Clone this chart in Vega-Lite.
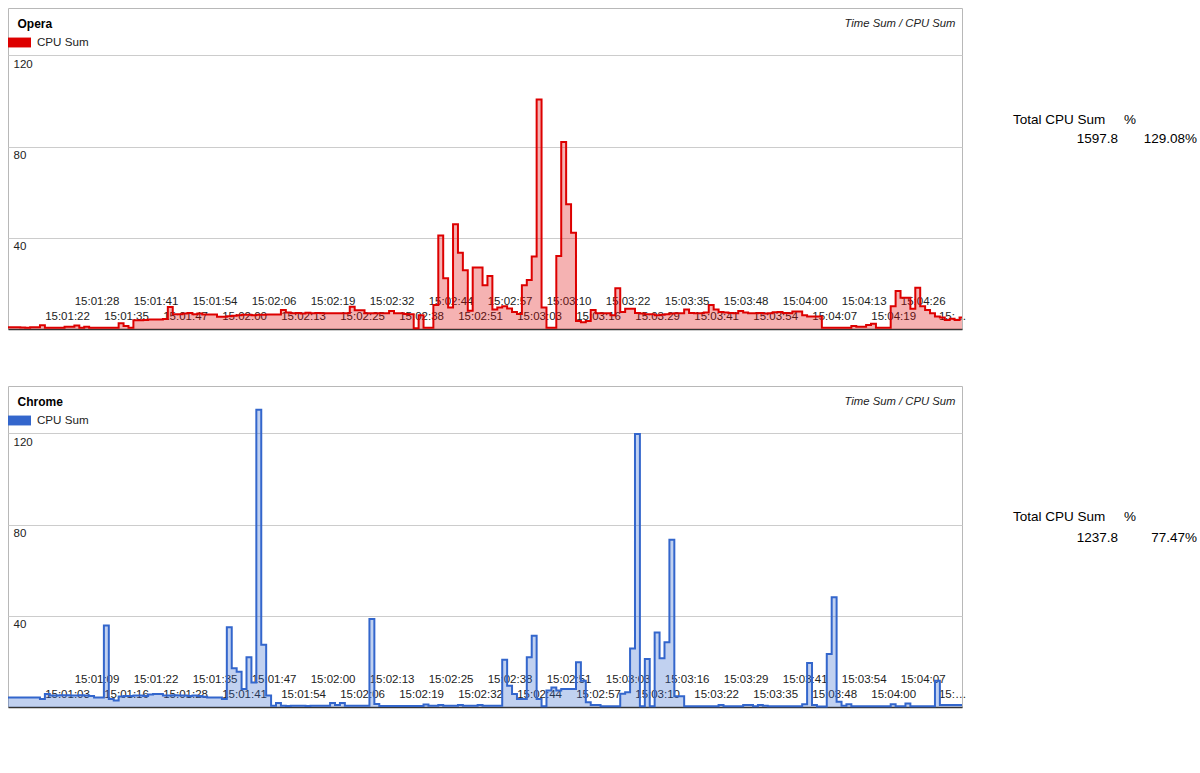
{
  "$schema": "https://vega.github.io/schema/vega-lite/v6.json",
  "description": "CPU Sum over time, Opera vs Chrome, stepped areas with totals on the right",
  "padding": {"left": 3, "top": 7, "right": 0, "bottom": 0},
  "background": "white",
  "config": {
    "font": "Liberation Sans",
    "view": {"stroke": "#b8b8b8", "strokeWidth": 1},
    "axis": {"labelFont": "Liberation Sans", "labelFontSize": 11.5, "labelColor": "#222222", "ticks": false, "tickSize": 0},
    "axisX": {"labelAngle": 0, "labelAlign": "center", "labelBaseline": "top", "labelOverlap": false, "labelBound": false, "labelFlush": false, "grid": false, "zindex": 1},
    "legend": {"padding": 0, "labelFont": "Liberation Sans", "labelFontSize": 11.6, "labelColor": "#222222", "labelOffset": 6}
  },
  "datasets": {
    "opera": [
      {"t":"15:01:09","v":0.8},{"t":"15:01:10","v":0.8},{"t":"15:01:11","v":0.8},{"t":"15:01:12","v":0.7},{"t":"15:01:13","v":0.6},
      {"t":"15:01:14","v":0.8},{"t":"15:01:15","v":0.8},{"t":"15:01:17","v":1.6},{"t":"15:01:18","v":0.5},{"t":"15:01:19","v":0.5},
      {"t":"15:01:20","v":0.5},{"t":"15:01:21","v":0.5},{"t":"15:01:22","v":1.0},{"t":"15:01:23","v":1.0},{"t":"15:01:24","v":1.5},
      {"t":"15:01:25","v":0.5},{"t":"15:01:26","v":1.0},{"t":"15:01:27","v":0.6},{"t":"15:01:28","v":0.6},{"t":"15:01:29","v":0.6},
      {"t":"15:01:30","v":0.6},{"t":"15:01:31","v":0.6},{"t":"15:01:32","v":0.6},{"t":"15:01:33","v":2.5},{"t":"15:01:35","v":1.3},
      {"t":"15:01:36","v":0.6},{"t":"15:01:37","v":3.8},{"t":"15:01:38","v":3.8},{"t":"15:01:39","v":4.0},{"t":"15:01:40","v":4.2},
      {"t":"15:01:41","v":4.2},{"t":"15:01:42","v":4.2},{"t":"15:01:43","v":4.4},{"t":"15:01:44","v":9.6},{"t":"15:01:45","v":6.5},
      {"t":"15:01:46","v":6.5},{"t":"15:01:47","v":6.8},{"t":"15:01:48","v":7.0},{"t":"15:01:49","v":6.5},{"t":"15:01:50","v":6.8},
      {"t":"15:01:51","v":6.4},{"t":"15:01:52","v":6.4},{"t":"15:01:54","v":6.4},{"t":"15:01:55","v":5.4},{"t":"15:01:56","v":5.4},
      {"t":"15:01:57","v":5.6},{"t":"15:01:58","v":5.8},{"t":"15:01:59","v":6.0},{"t":"15:02:00","v":6.2},{"t":"15:02:01","v":6.2},
      {"t":"15:02:02","v":6.0},{"t":"15:02:03","v":6.3},{"t":"15:02:04","v":6.3},{"t":"15:02:05","v":6.4},{"t":"15:02:06","v":6.4},
      {"t":"15:02:07","v":6.4},{"t":"15:02:08","v":8.3},{"t":"15:02:09","v":7.2},{"t":"15:02:10","v":6.9},{"t":"15:02:12","v":7.0},
      {"t":"15:02:13","v":6.8},{"t":"15:02:14","v":7.1},{"t":"15:02:15","v":6.9},{"t":"15:02:16","v":7.0},{"t":"15:02:17","v":6.9},
      {"t":"15:02:18","v":6.9},{"t":"15:02:19","v":6.9},{"t":"15:02:20","v":6.9},{"t":"15:02:21","v":6.9},{"t":"15:02:22","v":6.9},
      {"t":"15:02:23","v":9.8},{"t":"15:02:24","v":8.2},{"t":"15:02:25","v":8.2},{"t":"15:02:26","v":6.9},{"t":"15:02:27","v":6.9},
      {"t":"15:02:28","v":6.9},{"t":"15:02:30","v":6.9},{"t":"15:02:31","v":6.9},{"t":"15:02:32","v":7.9},{"t":"15:02:33","v":6.9},
      {"t":"15:02:34","v":6.9},{"t":"15:02:35","v":6.6},{"t":"15:02:36","v":6.5},{"t":"15:02:37","v":0.3},{"t":"15:02:38","v":6.0},
      {"t":"15:02:39","v":0.5},{"t":"15:02:40","v":0.5},{"t":"15:02:41","v":10.5},{"t":"15:02:42","v":41},{"t":"15:02:43","v":22.3},
      {"t":"15:02:44","v":9.4},{"t":"15:02:45","v":46},{"t":"15:02:46","v":33.5},{"t":"15:02:47","v":25.8},{"t":"15:02:49","v":8.0},
      {"t":"15:02:50","v":27},{"t":"15:02:51","v":27},{"t":"15:02:52","v":19.2},{"t":"15:02:53","v":23.3},{"t":"15:02:54","v":8.5},
      {"t":"15:02:55","v":9.4},{"t":"15:02:56","v":10},{"t":"15:02:57","v":9.0},{"t":"15:02:58","v":7.5},{"t":"15:02:59","v":6.6},
      {"t":"15:03:00","v":19.2},{"t":"15:03:01","v":21.5},{"t":"15:03:02","v":31.8},{"t":"15:03:03","v":100.7},{"t":"15:03:04","v":9.4},
      {"t":"15:03:05","v":0.6},{"t":"15:03:07","v":0.6},{"t":"15:03:08","v":32},{"t":"15:03:09","v":82},{"t":"15:03:10","v":54.7},
      {"t":"15:03:11","v":42.2},{"t":"15:03:12","v":3.5},{"t":"15:03:13","v":3.0},{"t":"15:03:14","v":3.5},{"t":"15:03:15","v":8.3},
      {"t":"15:03:16","v":6.9},{"t":"15:03:17","v":6.9},{"t":"15:03:18","v":6.9},{"t":"15:03:19","v":6.0},{"t":"15:03:20","v":17.9},
      {"t":"15:03:21","v":7.5},{"t":"15:03:22","v":8.9},{"t":"15:03:23","v":8.9},{"t":"15:03:24","v":7.0},{"t":"15:03:26","v":6.8},
      {"t":"15:03:27","v":6.5},{"t":"15:03:28","v":6.5},{"t":"15:03:29","v":6.0},{"t":"15:03:30","v":6.2},{"t":"15:03:31","v":6.5},
      {"t":"15:03:32","v":6.8},{"t":"15:03:33","v":6.9},{"t":"15:03:34","v":6.9},{"t":"15:03:35","v":8.6},{"t":"15:03:36","v":7.0},
      {"t":"15:03:37","v":6.9},{"t":"15:03:38","v":6.9},{"t":"15:03:39","v":7.2},{"t":"15:03:40","v":10.5},{"t":"15:03:41","v":8.6},
      {"t":"15:03:42","v":7.5},{"t":"15:03:44","v":7.2},{"t":"15:03:45","v":7.0},{"t":"15:03:46","v":6.9},{"t":"15:03:47","v":7.9},
      {"t":"15:03:48","v":7.2},{"t":"15:03:49","v":6.9},{"t":"15:03:50","v":6.9},{"t":"15:03:51","v":7.0},{"t":"15:03:52","v":6.8},
      {"t":"15:03:53","v":6.9},{"t":"15:03:54","v":7.3},{"t":"15:03:55","v":7.5},{"t":"15:03:56","v":7.0},{"t":"15:03:57","v":6.9},
      {"t":"15:03:58","v":7.7},{"t":"15:03:59","v":7.7},{"t":"15:04:00","v":6.0},{"t":"15:04:02","v":5.5},{"t":"15:04:03","v":5.5},
      {"t":"15:04:04","v":5.5},{"t":"15:04:05","v":0.6},{"t":"15:04:06","v":0.6},{"t":"15:04:07","v":0.6},{"t":"15:04:08","v":0.6},
      {"t":"15:04:09","v":0.6},{"t":"15:04:10","v":0.6},{"t":"15:04:11","v":1.3},{"t":"15:04:12","v":1.0},{"t":"15:04:13","v":1.0},
      {"t":"15:04:14","v":1.7},{"t":"15:04:15","v":2.3},{"t":"15:04:16","v":0.6},{"t":"15:04:17","v":0.6},{"t":"15:04:18","v":0.6},
      {"t":"15:04:19","v":10},{"t":"15:04:21","v":16.7},{"t":"15:04:22","v":13.7},{"t":"15:04:23","v":13.7},{"t":"15:04:24","v":8.9},
      {"t":"15:04:25","v":18.1},{"t":"15:04:26","v":10},{"t":"15:04:27","v":8.3},{"t":"15:04:28","v":6.9},{"t":"15:04:29","v":5.5},
      {"t":"15:04:30","v":5.0},{"t":"15:04:31","v":4.0},{"t":"15:04:32","v":4.5},{"t":"15:04:33","v":4.0},{"t":"15:04:34","v":5.0}
    ],
    "chrome": [
      {"t":"15:00:50","v":4.2},{"t":"15:00:51","v":4.2},{"t":"15:00:52","v":4.2},{"t":"15:00:53","v":4.2},{"t":"15:00:54","v":4.2},
      {"t":"15:00:55","v":4.2},{"t":"15:00:56","v":4.2},{"t":"15:00:58","v":3.5},{"t":"15:00:59","v":5.7},{"t":"15:01:00","v":5.0},
      {"t":"15:01:01","v":5.0},{"t":"15:01:02","v":5.2},{"t":"15:01:03","v":5.2},{"t":"15:01:04","v":5.0},{"t":"15:01:05","v":5.0},
      {"t":"15:01:06","v":5.2},{"t":"15:01:07","v":5.0},{"t":"15:01:08","v":4.8},{"t":"15:01:09","v":4.2},{"t":"15:01:10","v":4.2},
      {"t":"15:01:11","v":35.7},{"t":"15:01:12","v":3.5},{"t":"15:01:13","v":2.8},{"t":"15:01:14","v":4.6},{"t":"15:01:16","v":4.8},
      {"t":"15:01:17","v":4.8},{"t":"15:01:18","v":5.0},{"t":"15:01:19","v":5.0},{"t":"15:01:20","v":4.8},{"t":"15:01:21","v":5.5},
      {"t":"15:01:22","v":5.7},{"t":"15:01:23","v":5.7},{"t":"15:01:24","v":5.0},{"t":"15:01:25","v":5.0},{"t":"15:01:26","v":5.2},
      {"t":"15:01:27","v":5.0},{"t":"15:01:28","v":5.0},{"t":"15:01:29","v":4.8},{"t":"15:01:30","v":5.0},{"t":"15:01:31","v":4.8},
      {"t":"15:01:32","v":4.5},{"t":"15:01:33","v":4.2},{"t":"15:01:35","v":4.2},{"t":"15:01:36","v":4.2},{"t":"15:01:37","v":3.5},
      {"t":"15:01:38","v":35},{"t":"15:01:39","v":17},{"t":"15:01:40","v":15.5},{"t":"15:01:41","v":7.9},{"t":"15:01:42","v":21.8},
      {"t":"15:01:43","v":10.8},{"t":"15:01:44","v":130.4},{"t":"15:01:45","v":27.3},{"t":"15:01:46","v":5},{"t":"15:01:47","v":0.6},
      {"t":"15:01:48","v":1.8},{"t":"15:01:49","v":0.5},{"t":"15:01:50","v":0.4},{"t":"15:01:51","v":0.5},{"t":"15:01:53","v":0.6},
      {"t":"15:01:54","v":0.5},{"t":"15:01:55","v":0.4},{"t":"15:01:56","v":0.5},{"t":"15:01:57","v":0.5},{"t":"15:01:58","v":0.6},
      {"t":"15:01:59","v":0.5},{"t":"15:02:00","v":1.8},{"t":"15:02:01","v":0.9},{"t":"15:02:02","v":1.8},{"t":"15:02:03","v":0.5},
      {"t":"15:02:04","v":0.5},{"t":"15:02:05","v":0.5},{"t":"15:02:06","v":0.5},{"t":"15:02:07","v":0.5},{"t":"15:02:08","v":38.6},
      {"t":"15:02:09","v":1.3},{"t":"15:02:11","v":0.4},{"t":"15:02:12","v":0.4},{"t":"15:02:13","v":0.4},{"t":"15:02:14","v":0.4},
      {"t":"15:02:15","v":0.4},{"t":"15:02:16","v":0.4},{"t":"15:02:17","v":0.4},{"t":"15:02:18","v":0.4},{"t":"15:02:19","v":0.4},
      {"t":"15:02:20","v":1.1},{"t":"15:02:21","v":0.5},{"t":"15:02:22","v":0.5},{"t":"15:02:23","v":0.9},{"t":"15:02:24","v":0.5},
      {"t":"15:02:25","v":0.5},{"t":"15:02:26","v":0.5},{"t":"15:02:27","v":0.9},{"t":"15:02:28","v":0.5},{"t":"15:02:30","v":0.5},
      {"t":"15:02:31","v":0.5},{"t":"15:02:32","v":0.9},{"t":"15:02:33","v":0.5},{"t":"15:02:34","v":0.5},{"t":"15:02:35","v":0.5},
      {"t":"15:02:36","v":0.5},{"t":"15:02:37","v":20.7},{"t":"15:02:38","v":9.3},{"t":"15:02:39","v":5.7},{"t":"15:02:40","v":3.5},
      {"t":"15:02:41","v":3.5},{"t":"15:02:42","v":21.8},{"t":"15:02:43","v":31.3},{"t":"15:02:44","v":3.5},{"t":"15:02:45","v":0.3},
      {"t":"15:02:46","v":7.2},{"t":"15:02:48","v":8.6},{"t":"15:02:49","v":7.2},{"t":"15:02:50","v":7.9},{"t":"15:02:51","v":7.9},
      {"t":"15:02:52","v":7.9},{"t":"15:02:53","v":19.6},{"t":"15:02:54","v":11.5},{"t":"15:02:55","v":2.1},{"t":"15:02:56","v":0.9},
      {"t":"15:02:57","v":0.9},{"t":"15:02:58","v":0.3},{"t":"15:02:59","v":0.3},{"t":"15:03:00","v":0.3},{"t":"15:03:01","v":0.3},
      {"t":"15:03:02","v":5.8},{"t":"15:03:03","v":6.5},{"t":"15:03:04","v":25.7},{"t":"15:03:05","v":119.7},{"t":"15:03:07","v":0.3},
      {"t":"15:03:08","v":21},{"t":"15:03:09","v":0.3},{"t":"15:03:10","v":32.7},{"t":"15:03:11","v":21.4},{"t":"15:03:12","v":28.4},
      {"t":"15:03:13","v":73.4},{"t":"15:03:14","v":4.7},{"t":"15:03:15","v":4.7},{"t":"15:03:16","v":0.3},{"t":"15:03:17","v":0.3},
      {"t":"15:03:18","v":0.3},{"t":"15:03:19","v":0.3},{"t":"15:03:20","v":0.3},{"t":"15:03:21","v":0.3},{"t":"15:03:22","v":0.3},
      {"t":"15:03:23","v":0.9},{"t":"15:03:25","v":0.3},{"t":"15:03:26","v":0.3},{"t":"15:03:27","v":0.3},{"t":"15:03:28","v":0.3},
      {"t":"15:03:29","v":0.9},{"t":"15:03:30","v":0.9},{"t":"15:03:31","v":0.3},{"t":"15:03:32","v":0.9},{"t":"15:03:33","v":0.6},
      {"t":"15:03:34","v":0.3},{"t":"15:03:35","v":0.3},{"t":"15:03:36","v":0.3},{"t":"15:03:37","v":0.3},{"t":"15:03:38","v":0.3},
      {"t":"15:03:39","v":0.3},{"t":"15:03:40","v":0.3},{"t":"15:03:41","v":1.2},{"t":"15:03:43","v":19.3},{"t":"15:03:44","v":0.9},
      {"t":"15:03:45","v":0.2},{"t":"15:03:46","v":0.2},{"t":"15:03:47","v":23.2},{"t":"15:03:48","v":48.1},{"t":"15:03:49","v":2.3},
      {"t":"15:03:50","v":0.6},{"t":"15:03:51","v":1.2},{"t":"15:03:52","v":0.3},{"t":"15:03:53","v":0.3},{"t":"15:03:54","v":0.3},
      {"t":"15:03:55","v":0.3},{"t":"15:03:56","v":0.3},{"t":"15:03:57","v":0.3},{"t":"15:03:58","v":0.3},{"t":"15:03:59","v":0.3},
      {"t":"15:04:00","v":1.2},{"t":"15:04:02","v":0.3},{"t":"15:04:03","v":0.3},{"t":"15:04:04","v":1.5},{"t":"15:04:05","v":0.3},
      {"t":"15:04:06","v":0.3},{"t":"15:04:07","v":0.3},{"t":"15:04:08","v":0.3},{"t":"15:04:09","v":0.3},{"t":"15:04:10","v":11.5},
      {"t":"15:04:11","v":0.9},{"t":"15:04:12","v":0.9},{"t":"15:04:13","v":0.9},{"t":"15:04:14","v":0.9},{"t":"15:04:15","v":0.9}
    ],
    "stats": [
      {"panel":"Opera","col":"Total CPU Sum","val":"1597.8"},
      {"panel":"Opera","col":"%","val":"129.08%"},
      {"panel":"Chrome","col":"Total CPU Sum","val":"1237.8"},
      {"panel":"Chrome","col":"%","val":"77.47%"}
    ]
  },
  "resolve": {"scale": {"x": "independent", "y": "independent", "color": "independent"}, "legend": {"color": "independent"}},
  "spacing": 52,
  "vconcat": [
    {
      "spacing": 0,
      "resolve": {"scale": {"x": "independent", "y": "independent"}},
      "hconcat": [
        {
          "width": 954,
          "height": 321,
          "data": {"name": "opera"},
          "layer": [
            {
              "mark": {"type": "area", "interpolate": "step", "fillOpacity": 0.3},
              "encoding": {
                "x": {"field": "t", "type": "ordinal", "scale": {"type": "point", "padding": 0},
                  "axis": {"orient": "bottom", "title": null, "values": ["15:01:22","15:01:35","15:01:47","15:02:00","15:02:13","15:02:25","15:02:38","15:02:51","15:03:03","15:03:16","15:03:29","15:03:41","15:03:54","15:04:07","15:04:19","15:04:32"],
                    "labelPadding": -19, "domain": true, "domainColor": "#333333", "domainWidth": 1.5, "labelColor": "white",
                    "labelExpr": "datum.value == '15:04:32' ? '15:…' : datum.label",
                    "encode": {"labels": {"update": {"stroke": {"value": "white"}, "strokeWidth": {"value": 3}}}}}},
                "y": {"field": "v", "type": "quantitative", "scale": {"domain": [0, 140.8], "nice": false},
                  "axis": {"values": [40, 80, 120], "grid": true, "gridColor": "#cccccc", "domain": false, "labelAlign": "left", "labelBaseline": "top", "labelPadding": -5, "labelOffset": 3, "zindex": 0,
                    "title": "Opera", "titleAngle": 0, "titleX": 9, "titleY": 19, "titleAlign": "left", "titleBaseline": "alphabetic",
                    "titleFont": "Liberation Sans", "titleFontSize": 12, "titleFontWeight": "bold", "titleColor": "#000000"}},
                "color": {"datum": "CPU Sum", "scale": {"range": ["#dd0000"]},
                  "legend": {"title": null, "orient": "none", "legendX": 0, "legendY": 23,
                    "symbolType": "M-1,-0.43H1V0.43H-1Z", "symbolSize": 529, "symbolStrokeWidth": 0,
                    "encode": {"symbols": {"update": {"fill": {"value": "#dd0000"}, "fillOpacity": {"value": 1}, "opacity": {"value": 1}, "strokeWidth": {"value": 0}}}}}}
              }
            },
            {
              "mark": {"type": "line", "interpolate": "step", "strokeWidth": 2},
              "encoding": {
                "x": {"field": "t", "type": "ordinal", "scale": {"type": "point", "padding": 0},
                  "axis": {"orient": "bottom", "title": null, "values": ["15:01:28","15:01:41","15:01:54","15:02:06","15:02:19","15:02:32","15:02:44","15:02:57","15:03:10","15:03:22","15:03:35","15:03:48","15:04:00","15:04:13","15:04:26"],
                    "labelPadding": -34, "domain": false, "labelColor": "white",
                    "encode": {"labels": {"update": {"stroke": {"value": "white"}, "strokeWidth": {"value": 3}}}}}},
                "y": {"field": "v", "type": "quantitative"},
                "color": {"datum": "CPU Sum"}
              }
            },
            {
              "mark": {"type": "line", "interpolate": "step", "strokeOpacity": 0},
              "encoding": {
                "x": {"field": "t", "type": "ordinal", "scale": {"type": "point", "padding": 0},
                  "axis": {"orient": "bottom", "title": null, "values": ["15:01:22","15:01:35","15:01:47","15:02:00","15:02:13","15:02:25","15:02:38","15:02:51","15:03:03","15:03:16","15:03:29","15:03:41","15:03:54","15:04:07","15:04:19","15:04:32"],
                    "labelPadding": -19, "domain": false,
                    "labelExpr": "datum.value == '15:04:32' ? '15:…' : datum.label"}},
                "y": {"field": "v", "type": "quantitative"}
              }
            },
            {
              "mark": {"type": "line", "interpolate": "step", "strokeOpacity": 0},
              "encoding": {
                "x": {"field": "t", "type": "ordinal", "scale": {"type": "point", "padding": 0},
                  "axis": {"orient": "bottom", "values": ["15:01:28","15:01:41","15:01:54","15:02:06","15:02:19","15:02:32","15:02:44","15:02:57","15:03:10","15:03:22","15:03:35","15:03:48","15:04:00","15:04:13","15:04:26"],
                    "labelPadding": -34, "domain": false,
                    "title": "Time Sum / CPU Sum", "titleX": 947, "titleY": -302.5, "titleAlign": "right", "titleBaseline": "alphabetic",
                    "titleFontStyle": "italic", "titleFontWeight": "normal", "titleFontSize": 11.3, "titleColor": "#222222", "titleFont": "Liberation Sans"}},
                "y": {"field": "v", "type": "quantitative"}
              }
            }
          ],
          "resolve": {"axis": {"x": "independent"}}
        },
        {
          "width": 231,
          "height": 224,
          "view": {"stroke": null},
          "data": {"name": "stats"},
          "transform": [{"filter": "datum.panel == 'Opera'"}],
          "layer": [
            {
              "mark": {"type": "text", "align": "left", "baseline": "middle", "fontSize": 13.5, "font": "Liberation Sans", "color": "#000000"},
              "encoding": {
                "x": {"field": "col", "type": "nominal", "scale": {"type": "point", "padding": 0, "domain": ["Total CPU Sum", "%"], "range": [46, 157]}, "axis": null},
                "text": {"field": "col"}
              }
            },
            {
              "mark": {"type": "text", "align": "right", "baseline": "middle", "dy": 19, "fontSize": 13.5, "font": "Liberation Sans", "color": "#000000"},
              "encoding": {
                "x": {"field": "col", "type": "nominal", "scale": {"type": "point", "padding": 0, "domain": ["Total CPU Sum", "%"], "range": [151, 230]}, "axis": null},
                "text": {"field": "val"}
              }
            }
          ],
          "resolve": {"scale": {"x": "independent"}}
        }
      ]
    },
    {
      "spacing": 0,
      "resolve": {"scale": {"x": "independent", "y": "independent"}},
      "hconcat": [
        {
          "width": 954,
          "height": 321,
          "data": {"name": "chrome"},
          "layer": [
            {
              "mark": {"type": "area", "interpolate": "step", "fillOpacity": 0.3},
              "encoding": {
                "x": {"field": "t", "type": "ordinal", "scale": {"type": "point", "padding": 0},
                  "axis": {"orient": "bottom", "title": null, "values": ["15:01:03","15:01:16","15:01:28","15:01:41","15:01:54","15:02:06","15:02:19","15:02:32","15:02:44","15:02:57","15:03:10","15:03:22","15:03:35","15:03:48","15:04:00","15:04:13"],
                    "labelPadding": -19, "domain": true, "domainColor": "#333333", "domainWidth": 1.5, "labelColor": "white",
                    "labelExpr": "datum.value == '15:04:13' ? '15:…' : datum.label",
                    "encode": {"labels": {"update": {"stroke": {"value": "white"}, "strokeWidth": {"value": 3}}}}}},
                "y": {"field": "v", "type": "quantitative", "scale": {"domain": [0, 140.8], "nice": false},
                  "axis": {"values": [40, 80, 120], "grid": true, "gridColor": "#cccccc", "domain": false, "labelAlign": "left", "labelBaseline": "top", "labelPadding": -5, "labelOffset": 3, "zindex": 0,
                    "title": "Chrome", "titleAngle": 0, "titleX": 9, "titleY": 19, "titleAlign": "left", "titleBaseline": "alphabetic",
                    "titleFont": "Liberation Sans", "titleFontSize": 12, "titleFontWeight": "bold", "titleColor": "#000000"}},
                "color": {"datum": "CPU Sum", "scale": {"range": ["#3366cc"]},
                  "legend": {"title": null, "orient": "none", "legendX": 0, "legendY": 23,
                    "symbolType": "M-1,-0.43H1V0.43H-1Z", "symbolSize": 529, "symbolStrokeWidth": 0,
                    "encode": {"symbols": {"update": {"fill": {"value": "#3366cc"}, "fillOpacity": {"value": 1}, "opacity": {"value": 1}, "strokeWidth": {"value": 0}}}}}}
              }
            },
            {
              "mark": {"type": "line", "interpolate": "step", "strokeWidth": 2},
              "encoding": {
                "x": {"field": "t", "type": "ordinal", "scale": {"type": "point", "padding": 0},
                  "axis": {"orient": "bottom", "title": null, "values": ["15:01:09","15:01:22","15:01:35","15:01:47","15:02:00","15:02:13","15:02:25","15:02:38","15:02:51","15:03:03","15:03:16","15:03:29","15:03:41","15:03:54","15:04:07"],
                    "labelPadding": -34, "domain": false, "labelColor": "white",
                    "encode": {"labels": {"update": {"stroke": {"value": "white"}, "strokeWidth": {"value": 3}}}}}},
                "y": {"field": "v", "type": "quantitative"},
                "color": {"datum": "CPU Sum"}
              }
            },
            {
              "mark": {"type": "line", "interpolate": "step", "strokeOpacity": 0},
              "encoding": {
                "x": {"field": "t", "type": "ordinal", "scale": {"type": "point", "padding": 0},
                  "axis": {"orient": "bottom", "title": null, "values": ["15:01:03","15:01:16","15:01:28","15:01:41","15:01:54","15:02:06","15:02:19","15:02:32","15:02:44","15:02:57","15:03:10","15:03:22","15:03:35","15:03:48","15:04:00","15:04:13"],
                    "labelPadding": -19, "domain": false,
                    "labelExpr": "datum.value == '15:04:13' ? '15:…' : datum.label"}},
                "y": {"field": "v", "type": "quantitative"}
              }
            },
            {
              "mark": {"type": "line", "interpolate": "step", "strokeOpacity": 0},
              "encoding": {
                "x": {"field": "t", "type": "ordinal", "scale": {"type": "point", "padding": 0},
                  "axis": {"orient": "bottom", "values": ["15:01:09","15:01:22","15:01:35","15:01:47","15:02:00","15:02:13","15:02:25","15:02:38","15:02:51","15:03:03","15:03:16","15:03:29","15:03:41","15:03:54","15:04:07"],
                    "labelPadding": -34, "domain": false,
                    "title": "Time Sum / CPU Sum", "titleX": 947, "titleY": -302.5, "titleAlign": "right", "titleBaseline": "alphabetic",
                    "titleFontStyle": "italic", "titleFontWeight": "normal", "titleFontSize": 11.3, "titleColor": "#222222", "titleFont": "Liberation Sans"}},
                "y": {"field": "v", "type": "quantitative"}
              }
            }
          ],
          "resolve": {"axis": {"x": "independent"}}
        },
        {
          "width": 231,
          "height": 261,
          "view": {"stroke": null},
          "data": {"name": "stats"},
          "transform": [{"filter": "datum.panel == 'Chrome'"}],
          "layer": [
            {
              "mark": {"type": "text", "align": "left", "baseline": "middle", "fontSize": 13.5, "font": "Liberation Sans", "color": "#000000"},
              "encoding": {
                "x": {"field": "col", "type": "nominal", "scale": {"type": "point", "padding": 0, "domain": ["Total CPU Sum", "%"], "range": [46, 157]}, "axis": null},
                "text": {"field": "col"}
              }
            },
            {
              "mark": {"type": "text", "align": "right", "baseline": "middle", "dy": 21, "fontSize": 13.5, "font": "Liberation Sans", "color": "#000000"},
              "encoding": {
                "x": {"field": "col", "type": "nominal", "scale": {"type": "point", "padding": 0, "domain": ["Total CPU Sum", "%"], "range": [151, 230]}, "axis": null},
                "text": {"field": "val"}
              }
            }
          ],
          "resolve": {"scale": {"x": "independent"}}
        }
      ]
    }
  ]
}
